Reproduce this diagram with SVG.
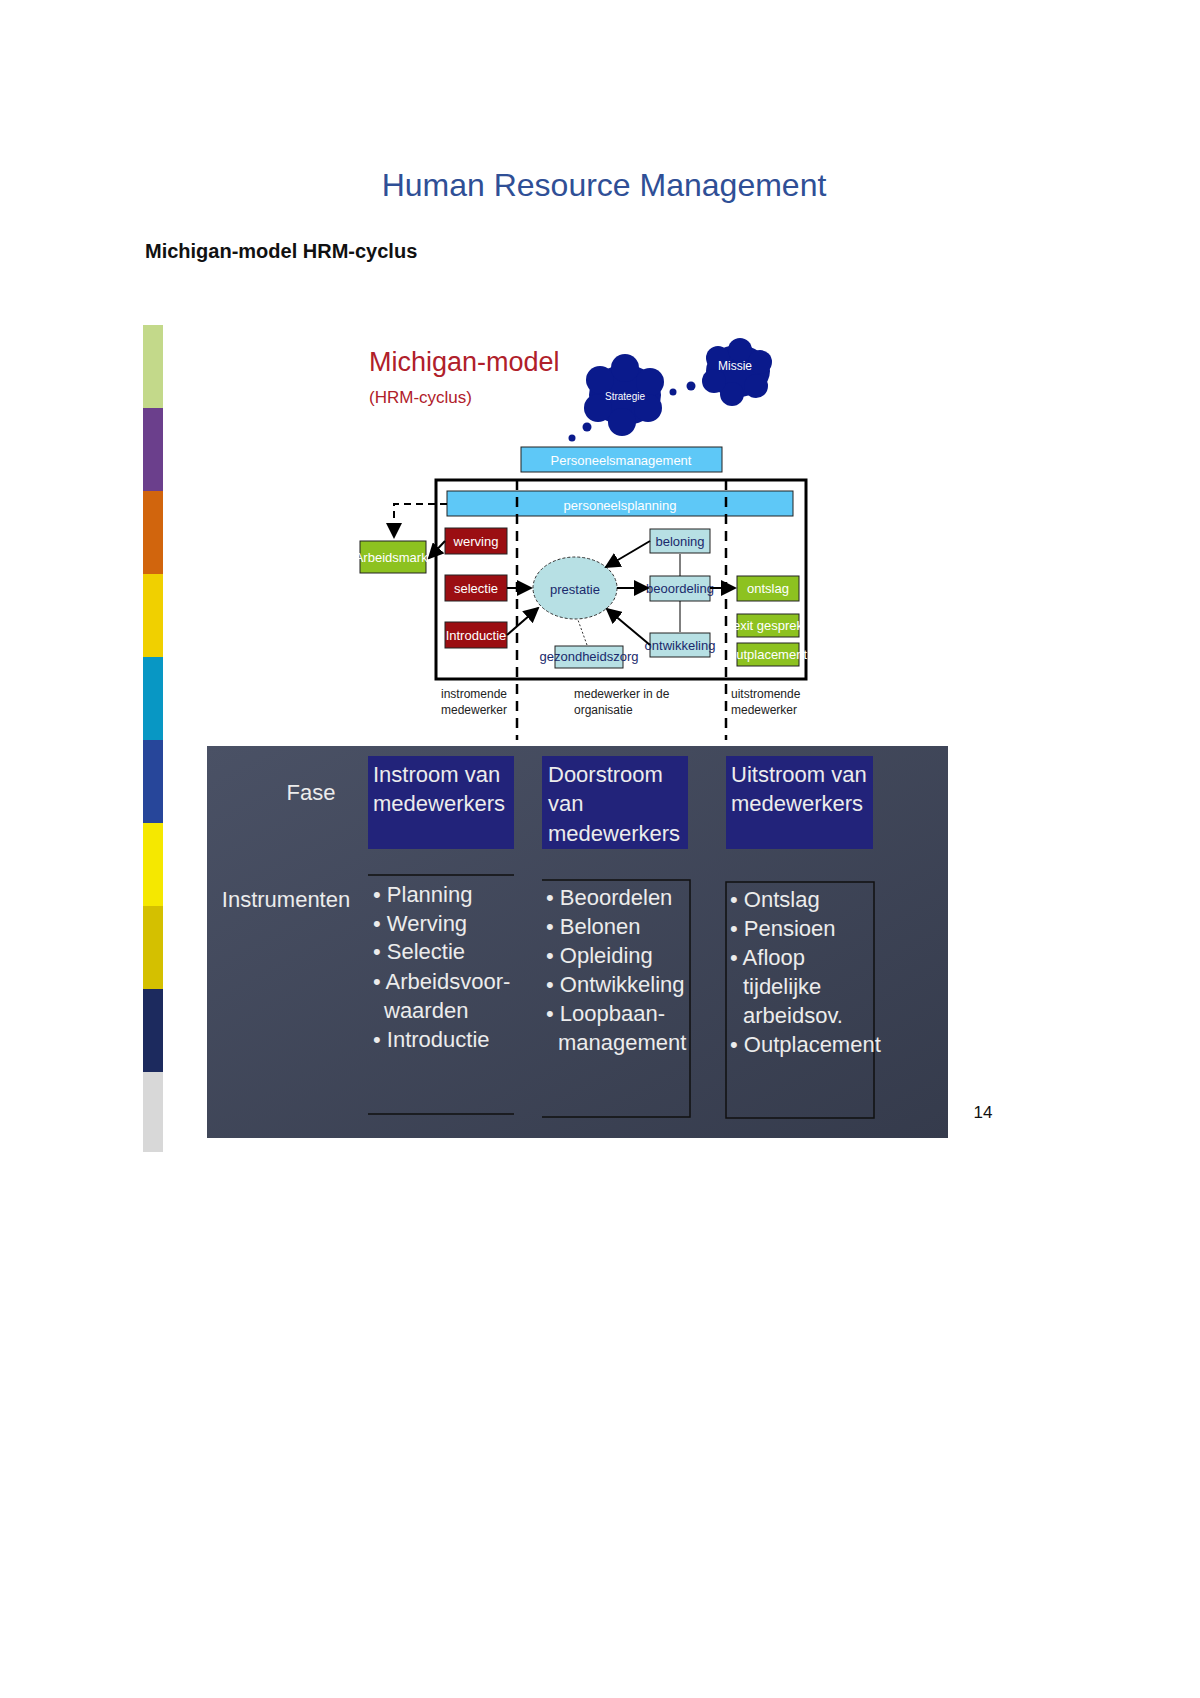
<svg xmlns="http://www.w3.org/2000/svg" width="1200" height="1698" viewBox="0 0 1200 1698">
<defs>
<style>
text{font-family:"Liberation Sans",Arial,sans-serif}
.bx{stroke:#222;stroke-width:1}
.wt{fill:#fff;font-size:13px;text-anchor:middle}
.dk{fill:#1a2a6c;font-size:13px;text-anchor:middle}
.sm{fill:#222;font-size:12px}
.tb{fill:#ececec;font-size:22px}
.hd{fill:#22237a}
.ln{stroke:#111;stroke-width:1.5;fill:none}
.cn{stroke:#000;stroke-width:2;fill:none}
</style>
<marker id="ah" markerWidth="8" markerHeight="8" refX="7" refY="4" orient="auto"><path d="M0,0L8,4L0,8z" fill="#000"/></marker>
<linearGradient id="sl" x1="0" y1="0" x2="1" y2="1"><stop offset="0" stop-color="#4a5165"/><stop offset="1" stop-color="#353b4c"/></linearGradient>
</defs>
<rect width="1200" height="1698" fill="#fff"/>
<text x="604" y="196" font-size="32" fill="#2f4f96" text-anchor="middle" font-family="DejaVu Sans,sans-serif">Human Resource Management</text>
<text x="145" y="258" font-size="20" font-weight="bold" fill="#111">Michigan-model HRM-cyclus</text>
<g id="colorbar">
<rect x="143" y="325" width="20" height="83" fill="#c3d98a"/>
<rect x="143" y="408" width="20" height="83" fill="#6b3f8c"/>
<rect x="143" y="491" width="20" height="83" fill="#d1650d"/>
<rect x="143" y="574" width="20" height="83" fill="#f0d000"/>
<rect x="143" y="657" width="20" height="83" fill="#0897c4"/>
<rect x="143" y="740" width="20" height="83" fill="#27469a"/>
<rect x="143" y="823" width="20" height="83" fill="#f5e800"/>
<rect x="143" y="906" width="20" height="83" fill="#d4c000"/>
<rect x="143" y="989" width="20" height="83" fill="#1c2a5e"/>
<rect x="143" y="1072" width="20" height="80" fill="#d8d8d8"/>
</g>
<g id="header">
<text x="369" y="371" font-size="27" fill="#b0202a">Michigan-model</text>
<text x="369" y="403" font-size="17" fill="#b0202a">(HRM-cyclus)</text>
</g>
<g id="clouds" fill="#0a1a8c">
<ellipse cx="625" cy="395" rx="36" ry="30"/>
<circle cx="600" cy="380" r="14"/><circle cx="625" cy="368" r="14"/><circle cx="650" cy="382" r="14"/><circle cx="648" cy="408" r="14"/><circle cx="622" cy="422" r="14"/><circle cx="598" cy="408" r="14"/>
<text x="625" y="400" font-size="10" fill="#fff" text-anchor="middle">Strategie</text>
<ellipse cx="738" cy="371" rx="32" ry="26"/>
<circle cx="718" cy="358" r="12"/><circle cx="740" cy="350" r="12"/><circle cx="760" cy="362" r="12"/><circle cx="756" cy="386" r="12"/><circle cx="732" cy="394" r="12"/><circle cx="714" cy="381" r="12"/>
<text x="735" y="370" font-size="12" fill="#fff" text-anchor="middle">Missie</text>
<circle cx="572" cy="438" r="3.5"/><circle cx="587" cy="427" r="4.5"/><circle cx="673" cy="392" r="3.5"/><circle cx="691" cy="386" r="4.5"/>
</g>
<g id="pm"><rect x="521" y="447" width="201" height="25" fill="#5ec8f7" stroke="#222"/><text x="621" y="465" class="wt" font-size="14">Personeelsmanagement</text></g>
<rect x="436" y="480" width="370" height="199" fill="none" stroke="#000" stroke-width="3"/>
<g id="pp"><rect x="447" y="491" width="346" height="25" fill="#5ec8f7" stroke="#222"/><text x="620" y="510" class="wt" font-size="17">personeelsplanning</text></g>
<g id="dashes" stroke="#000" stroke-width="2.5" stroke-dasharray="10,7" fill="none">
<line x1="517" y1="480" x2="517" y2="740"/><line x1="726" y1="480" x2="726" y2="740"/>
</g>
<g id="arbeidsmarkt"><rect x="360" y="541" width="66" height="32" fill="#8dc220" stroke="#222"/><text x="393" y="562" class="wt" font-size="13">Arbeidsmarkt</text></g>
<g id="werving"><rect x="445" y="528" width="62" height="26" fill="#9b0e12" stroke="#222"/><text x="476" y="546" class="wt">werving</text></g>
<g id="selectie"><rect x="445" y="575" width="62" height="26" fill="#9b0e12" stroke="#222"/><text x="476" y="593" class="wt">selectie</text></g>
<g id="introductie"><rect x="445" y="622" width="62" height="26" fill="#9b0e12" stroke="#222"/><text x="476" y="640" class="wt">Introductie</text></g>
<g id="prestatie"><ellipse cx="575" cy="588" rx="42" ry="31" fill="#b7e0e4" stroke="#333" stroke-dasharray="3,2"/><text x="575" y="594" class="dk" font-size="17">prestatie</text></g>
<g id="beloning"><rect x="650" y="529" width="60" height="24" fill="#b7e0e4" stroke="#222"/><text x="680" y="546" class="dk">beloning</text></g>
<g id="beoordeling"><rect x="650" y="576" width="60" height="25" fill="#b7e0e4" stroke="#222"/><text x="680" y="593" class="dk">beoordeling</text></g>
<g id="ontwikkeling"><rect x="650" y="633" width="60" height="24" fill="#b7e0e4" stroke="#222"/><text x="680" y="650" class="dk">ontwikkeling</text></g>
<g id="groen"><rect x="555" y="646" width="68" height="22" fill="#b7e0e4" stroke="#222"/><text x="589" y="661" class="dk" font-size="9">gezondheidszorg</text></g>
<g id="ontslag"><rect x="737" y="576" width="62" height="25" fill="#8dc220" stroke="#222"/><text x="768" y="593" class="wt">ontslag</text></g>
<g id="exit"><rect x="737" y="614" width="62" height="23" fill="#8dc220" stroke="#222"/><text x="768" y="630" class="wt">exit gesprek</text></g>
<g id="outplacement"><rect x="737" y="643" width="62" height="23" fill="#8dc220" stroke="#222"/><text x="768" y="659" class="wt">outplacement</text></g>
<g id="connectors">
<path d="M447,504H394V537" stroke="#000" stroke-width="2" stroke-dasharray="7,5" fill="none" marker-end="url(#ah)"/>
<line x1="445" y1="541" x2="429" y2="558" class="cn" marker-end="url(#ah)"/>
<line x1="507" y1="588" x2="531" y2="588" class="cn" marker-end="url(#ah)"/>
<line x1="507" y1="635" x2="538" y2="608" class="cn" marker-end="url(#ah)"/>
<line x1="650" y1="541" x2="606" y2="567" class="cn" marker-end="url(#ah)"/>
<line x1="617" y1="588" x2="648" y2="588" class="cn" marker-end="url(#ah)"/>
<line x1="650" y1="645" x2="607" y2="609" class="cn" marker-end="url(#ah)"/>
<line x1="710" y1="588" x2="735" y2="588" class="cn" marker-end="url(#ah)"/>
<line x1="680" y1="576" x2="680" y2="554" stroke="#000" stroke-width="1"/>
<line x1="680" y1="601" x2="680" y2="632" stroke="#000" stroke-width="1"/>
<line x1="587" y1="645" x2="578" y2="620" stroke="#333" stroke-width="1" stroke-dasharray="2,2"/>
</g>
<g id="labels">
<text x="441" y="698" class="sm">instromende</text><text x="441" y="714" class="sm">medewerker</text>
<text x="574" y="698" class="sm">medewerker in de</text><text x="574" y="714" class="sm">organisatie</text>
<text x="731" y="698" class="sm">uitstromende</text><text x="731" y="714" class="sm">medewerker</text>
</g>
<g id="table">
<rect x="207" y="746" width="741" height="392" fill="url(#sl)"/>
<text x="311" y="800" class="tb" text-anchor="middle">Fase</text>
<text x="286" y="907" class="tb" text-anchor="middle">Instrumenten</text>
<rect x="368" y="756" width="146" height="93" class="hd"/>
<rect x="542" y="756" width="146" height="93" class="hd"/>
<rect x="726" y="756" width="147" height="93" class="hd"/>
<text class="tb"><tspan x="373" y="782">Instroom van</tspan><tspan x="373" y="811">medewerkers</tspan></text>
<text class="tb"><tspan x="548" y="782">Doorstroom</tspan><tspan x="548" y="811">van</tspan><tspan x="548" y="841">medewerkers</tspan></text>
<text class="tb"><tspan x="731" y="782">Uitstroom van</tspan><tspan x="731" y="811">medewerkers</tspan></text>
<line x1="368" y1="875" x2="514" y2="875" class="ln"/><line x1="368" y1="1114" x2="514" y2="1114" class="ln"/>
<path d="M542,880H690V1117H542" class="ln"/>
<rect x="726" y="882" width="148" height="236" class="ln"/>
<text class="tb"><tspan x="373" y="902">• Planning</tspan><tspan x="373" y="931">• Werving</tspan><tspan x="373" y="959">• Selectie</tspan><tspan x="373" y="989">• Arbeidsvoor-</tspan><tspan x="384" y="1018">waarden</tspan><tspan x="373" y="1047">• Introductie</tspan></text>
<text class="tb"><tspan x="546" y="905">• Beoordelen</tspan><tspan x="546" y="934">• Belonen</tspan><tspan x="546" y="963">• Opleiding</tspan><tspan x="546" y="992">• Ontwikkeling</tspan><tspan x="546" y="1021">• Loopbaan-</tspan><tspan x="558" y="1050">management</tspan></text>
<text class="tb"><tspan x="730" y="907">• Ontslag</tspan><tspan x="730" y="936">• Pensioen</tspan><tspan x="730" y="965">• Afloop</tspan><tspan x="743" y="994">tijdelijke</tspan><tspan x="743" y="1023">arbeidsov.</tspan><tspan x="730" y="1052">• Outplacement</tspan></text>
</g>
<text x="983" y="1118" font-size="17" fill="#111" text-anchor="middle">14</text>
</svg>
